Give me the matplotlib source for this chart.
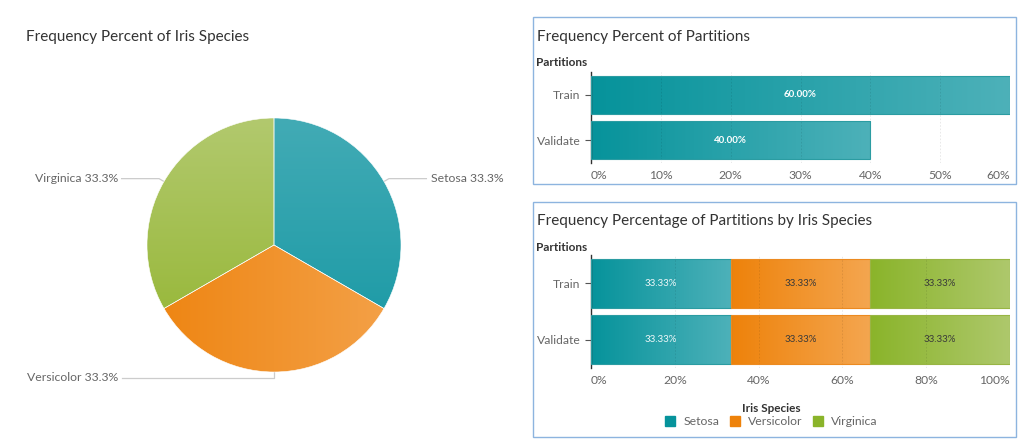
import numpy as np
import matplotlib
matplotlib.use('Agg')
import matplotlib.pyplot as plt
from matplotlib.patches import Rectangle
from matplotlib.lines import Line2D
from matplotlib.colors import to_rgb

plt.rcParams['font.family'] = ['Lato', 'DejaVu Sans']

# data
species = ['Setosa', 'Versicolor', 'Virginica']
species_pct = [33.3, 33.3, 33.3]
partitions = ['Train', 'Validate']
partition_pct = [60.0, 40.0]
# percent of each species inside each partition
species_by_partition = {
    'Setosa': [33.33, 33.33],
    'Versicolor': [33.33, 33.33],
    'Virginica': [33.33, 33.33],
}

# colours (dark end, light end of the gradient, edge)
dark = {'Setosa': '#06939b', 'Versicolor': '#ee820a', 'Virginica': '#8ab42a'}
light = {'Setosa': '#4db1b9', 'Versicolor': '#f4a650', 'Virginica': '#aec86c'}
edge = {'Setosa': '#2b9ca2', 'Versicolor': '#ec8a20', 'Virginica': '#98b544'}
pie_dark = {'Setosa': '#1597a3', 'Versicolor': '#ee8410', 'Virginica': '#92b42e'}
pie_light = {'Setosa': '#42abb5', 'Versicolor': '#f4a24a', 'Virginica': '#b2c96e'}
pie_dir = {'Setosa': (0, 1), 'Versicolor': (1, 0), 'Virginica': (0, 1)}

TITLE = '#333333'
GREY = '#666666'
W, H = 1024, 446


def fx(px):
    return px / W


def fy(py):
    return 1 - py / H


def gradient(ax, patch, extent, c0, c1, direction=(1, 0), z=2):
    # linear gradient image clipped to a patch
    n = 200
    gx, gy = np.meshgrid(np.linspace(0, 1, n), np.linspace(0, 1, n))
    t = gx * direction[0] + gy * direction[1]
    t = (t - t.min()) / (t.max() - t.min())
    rgb = np.array(to_rgb(c0)) * (1 - t[..., None]) + np.array(to_rgb(c1)) * t[..., None]
    im = ax.imshow(rgb, extent=extent, origin='lower', aspect='auto',
                   interpolation='bilinear', zorder=z)
    im.set_clip_path(patch)
    return im


def style_bar_axes(ax, xmax, step):
    ax.set_xlim(0, xmax)
    ax.set_ylim(1.5, -0.5)
    ticks = np.arange(0, xmax + 1, step)
    ax.set_xticks(ticks)
    ax.set_xticklabels([f'{int(t)}%' for t in ticks])
    labs = ax.get_xticklabels()
    labs[0].set_ha('left')
    labs[-1].set_ha('right')
    ax.set_yticks(range(len(partitions)))
    ax.set_yticklabels(partitions)
    for s in ['top', 'right', 'bottom']:
        ax.spines[s].set_visible(False)
    ax.spines['left'].set_color('#333333')
    ax.spines['left'].set_linewidth(1)
    ax.tick_params(axis='x', length=0, pad=5, labelsize=8.7, labelcolor=GREY)
    ax.tick_params(axis='y', length=4.5, width=0.8, color='#555555', pad=3,
                   labelsize=8.7, labelcolor=GREY)
    ax.set_axisbelow(False)
    ax.grid(axis='x', color='#000000', alpha=0.1, linestyle=(0, (2, 2)), linewidth=0.6)
    ax.grid(axis='y', visible=False)


fig = plt.figure(figsize=(W / 100, H / 100), dpi=100)

# ---------- pie ----------
fig.text(fx(26), fy(37), 'Frequency Percent of Iris Species', fontsize=11,
         color=TITLE, va='center', ha='left')

ax_pie = fig.add_axes([fx(147), fy(372), 254 / W, 254 / H])
wedges, _ = ax_pie.pie(species_pct, startangle=90, counterclock=False, radius=1,
                       colors=[dark[s] for s in species],
                       wedgeprops=dict(edgecolor='white', linewidth=0.4))
for w, name, pct in zip(wedges, species, species_pct):
    w.set_zorder(3)
    w.set_facecolor('none')
    gradient(ax_pie, w, (-1, 1, -1, 1), pie_dark[name], pie_light[name],
             pie_dir[name], z=2)
    a = np.deg2rad((w.theta1 + w.theta2) / 2)
    x0, y0 = np.cos(a), np.sin(a)
    x1, y1 = 1.045 * x0, 1.045 * y0
    right = x0 > 1e-6
    x2 = 1.2 if right else -1.2
    ax_pie.plot([x0, x1, x2], [y0, y1, y1], color='#cccccc', lw=0.9,
                clip_on=False, zorder=1)
    ax_pie.text(x2 + (0.035 if right else -0.03), y1, f'{name} {pct:.1f}%',
                ha='left' if right else 'right', va='center', fontsize=8.8,
                color=GREY, clip_on=False)
ax_pie.set_xlim(-1, 1)
ax_pie.set_ylim(-1, 1)
ax_pie.set_aspect('equal')
ax_pie.axis('off')

# ---------- frequency percent of partitions ----------
fig.add_artist(Rectangle((fx(533), fy(184)), (1016 - 533) / W, (184 - 17) / H,
                         transform=fig.transFigure, fill=False,
                         edgecolor='#8db4df', linewidth=1))
fig.text(fx(537), fy(37), 'Frequency Percent of Partitions', fontsize=11,
         color=TITLE, va='center', ha='left')
fig.text(fx(536), fy(63), 'Partitions', fontsize=8.5, weight='bold',
         color=TITLE, va='center', ha='left')

ax1 = fig.add_axes([fx(591), fy(163), 419 / W, 91 / H])
bars = ax1.barh(partitions, partition_pct, height=0.84, color=dark['Setosa'],
                edgecolor=edge['Setosa'], linewidth=0.8, zorder=3)
for b in bars:
    gradient(ax1, b, (b.get_x(), b.get_x() + b.get_width(),
                      b.get_y(), b.get_y() + b.get_height()),
             dark['Setosa'], light['Setosa'], z=2)
    b.set_facecolor('none')
ax1.bar_label(bars, labels=[f'{v:.2f}%' for v in partition_pct], label_type='center',
              color='white', fontsize=7, weight='bold')
style_bar_axes(ax1, 60, 10)

# ---------- frequency percentage of partitions by species ----------
fig.add_artist(Rectangle((fx(533), fy(437)), (1016 - 533) / W, (437 - 202) / H,
                         transform=fig.transFigure, fill=False,
                         edgecolor='#8db4df', linewidth=1))
fig.text(fx(537), fy(221), 'Frequency Percentage of Partitions by Iris Species',
         fontsize=11, color=TITLE, va='center', ha='left')
fig.text(fx(536), fy(247), 'Partitions', fontsize=8.5, weight='bold',
         color=TITLE, va='center', ha='left')

ax2 = fig.add_axes([fx(591), fy(368), 419 / W, 113 / H])
left = np.zeros(len(partitions))
for name in species:
    vals = np.array(species_by_partition[name])
    bs = ax2.barh(partitions, vals, left=left, height=0.87, color=dark[name],
                  edgecolor=edge[name], linewidth=0.8, zorder=3)
    for b in bs:
        gradient(ax2, b, (b.get_x(), b.get_x() + b.get_width(),
                          b.get_y(), b.get_y() + b.get_height()),
                 dark[name], light[name], z=2)
        b.set_facecolor('none')
    ax2.bar_label(bs, labels=[f'{v:.2f}%' for v in vals], label_type='center',
                  color='#eef7f8' if name == 'Setosa' else '#3a3a3a', fontsize=7)
    left += vals
style_bar_axes(ax2, 100, 20)

handles = [Line2D([], [], marker='s', linestyle='none', markersize=6.5,
                  color=dark[s], label=s) for s in species]
leg = fig.legend(handles=handles, loc='center', bbox_to_anchor=(fx(771), fy(415)),
                 ncol=3, frameon=False, title='Iris Species', fontsize=8.8,
                 title_fontproperties={'weight': 'bold', 'size': 8.5},
                 handletextpad=0.55, handlelength=1.0, columnspacing=0.8,
                 borderpad=0, labelspacing=0.2)
for t in leg.get_texts():
    t.set_color(GREY)
leg.get_title().set_color(TITLE)

fig.savefig('out.png', dpi=100)
